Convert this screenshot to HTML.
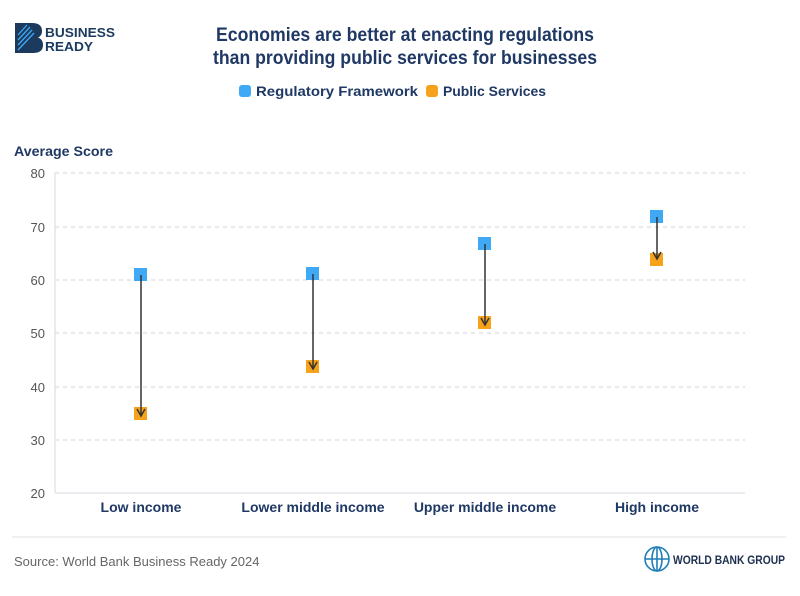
<!DOCTYPE html>
<html><head><meta charset="utf-8"><style>
body{margin:0;background:#fff;width:800px;height:591px;overflow:hidden;font-family:"Liberation Sans",sans-serif}
</style></head><body>
<svg width="800" height="591" xmlns="http://www.w3.org/2000/svg" font-family="Liberation Sans, sans-serif">
<g transform="translate(15,23)">
<path d="M0 0 H17 Q27 0 27 8 Q27 13 23 14.5 Q28 16 28 22 Q28 30 18 30 H0 Z" fill="#1b3a5e"/>
<line x1="3" y1="12" x2="12" y2="2" stroke="#3fa9f5" stroke-width="1.3"/>
<line x1="3" y1="17" x2="15" y2="4" stroke="#3fa9f5" stroke-width="1.3"/>
<line x1="3" y1="22" x2="17" y2="7" stroke="#3fa9f5" stroke-width="1.3"/>
<line x1="3" y1="27" x2="19" y2="10" stroke="#3fa9f5" stroke-width="1.3"/>
</g>
<text x="45" y="37" font-size="13" font-weight="bold" fill="#1b3a5e" textLength="70" lengthAdjust="spacingAndGlyphs">BUSINESS</text>
<text x="45" y="51" font-size="13" font-weight="bold" fill="#1b3a5e" textLength="48" lengthAdjust="spacingAndGlyphs">READY</text>
<text x="405" y="41" font-size="19" font-weight="bold" fill="#1f3864" text-anchor="middle" textLength="378" lengthAdjust="spacingAndGlyphs">Economies are better at enacting regulations</text>
<text x="405" y="64" font-size="19" font-weight="bold" fill="#1f3864" text-anchor="middle" textLength="384" lengthAdjust="spacingAndGlyphs">than providing public services for businesses</text>
<rect x="239" y="85" width="12" height="12" rx="3" fill="#3fa9f5"/>
<text x="256" y="96" font-size="14" font-weight="bold" fill="#1f3864" textLength="162" lengthAdjust="spacingAndGlyphs">Regulatory Framework</text>
<rect x="426" y="85" width="12" height="12" rx="3" fill="#f7a21b"/>
<text x="443" y="96" font-size="14" font-weight="bold" fill="#1f3864" textLength="103" lengthAdjust="spacingAndGlyphs">Public Services</text>
<text x="14" y="156" font-size="14" font-weight="bold" fill="#1f3864" textLength="99" lengthAdjust="spacingAndGlyphs">Average Score</text>
<g stroke="#cfd3da" stroke-dasharray="4,4" stroke-width="1">
<line x1="55" y1="173" x2="745" y2="173"/><line x1="55" y1="227" x2="745" y2="227"/>
<line x1="55" y1="280" x2="745" y2="280"/><line x1="55" y1="333" x2="745" y2="333"/>
<line x1="55" y1="387" x2="745" y2="387"/><line x1="55" y1="440" x2="745" y2="440"/>
</g>
<line x1="55" y1="173" x2="55" y2="493" stroke="#d5d9e0"/>
<line x1="55" y1="493" x2="745" y2="493" stroke="#d5d9e0"/>
<g font-size="13" fill="#555" text-anchor="end">
<text x="45" y="178">80</text><text x="45" y="232">70</text><text x="45" y="285">60</text>
<text x="45" y="338">50</text><text x="45" y="392">40</text><text x="45" y="445">30</text><text x="45" y="498">20</text>
</g>
<g font-size="14" font-weight="bold" fill="#1f3864" text-anchor="middle">
<text x="141" y="512">Low income</text><text x="313" y="512">Lower middle income</text>
<text x="485" y="512">Upper middle income</text><text x="657" y="512">High income</text>
</g>
<g>
<rect x="134" y="407" width="13" height="13" fill="#f7a21b"/>
<rect x="306" y="360" width="13" height="13" fill="#f7a21b"/>
<rect x="478" y="316" width="13" height="13" fill="#f7a21b"/>
<rect x="650" y="253" width="13" height="13" fill="#f7a21b"/>
<rect x="134" y="268" width="13" height="13" fill="#3fa9f5"/>
<rect x="306" y="267" width="13" height="13" fill="#3fa9f5"/>
<rect x="478" y="237" width="13" height="13" fill="#3fa9f5"/>
<rect x="650" y="210" width="13" height="13" fill="#3fa9f5"/>
</g>
<g stroke="#333" stroke-width="1.5" fill="none">
<line x1="141" y1="275" x2="141" y2="416"/><polyline points="137,409 141,416 145,409"/>
<line x1="313" y1="274" x2="313" y2="369"/><polyline points="309,362 313,369 317,362"/>
<line x1="485" y1="244" x2="485" y2="325"/><polyline points="481,318 485,325 489,318"/>
<line x1="657" y1="217" x2="657" y2="259"/><polyline points="653,252 657,259 661,252"/>
</g>
<line x1="12" y1="537" x2="786" y2="537" stroke="#dde1e6"/>
<text x="14" y="566" font-size="13" fill="#666">Source: World Bank Business Ready 2024</text>
<g transform="translate(657,559)" fill="none" stroke="#1e7fb8" stroke-width="1.6">
<circle r="12"/><ellipse rx="5" ry="12"/><line x1="-12" y1="0" x2="12" y2="0"/><line x1="0" y1="-12" x2="0" y2="12"/>
</g>
<text x="673" y="564" font-size="12" font-weight="bold" fill="#1b2f4e" textLength="112" lengthAdjust="spacingAndGlyphs">WORLD BANK GROUP</text>
</svg>
</body></html>
